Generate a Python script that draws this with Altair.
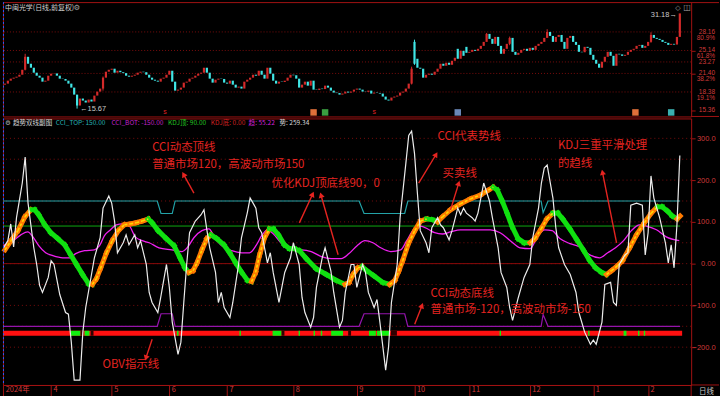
import math
import altair as alt
import pandas as pd

# ---------------- data ----------------
# closing price per trading day (index 0..234)
close = [
    19.74, 20.22, 20.55, 20.71, 20.87, 21.19, 22.00, 24.11, 22.98, 22.33,
    21.52, 21.03, 20.71, 20.06, 20.22, 21.03, 21.36, 21.40, 21.03, 20.55,
    20.50, 20.22, 19.74, 19.09, 17.95, 16.17, 17.31, 16.98, 16.66, 17.14,
    16.82, 17.79, 18.44, 18.93, 20.71, 21.68, 22.00, 22.17, 21.52, 21.84,
    21.60, 21.45, 21.03, 20.87, 21.03, 21.19, 21.52, 21.68, 21.60, 21.19,
    20.71, 20.38, 20.22, 20.06, 20.55, 20.71, 21.19, 21.84, 20.06, 18.60,
    18.76, 19.09, 19.90, 20.06, 20.55, 20.71, 21.03, 21.36, 21.52, 22.33,
    21.52, 20.55, 19.90, 20.38, 20.55, 20.50, 19.90, 19.74, 20.22, 19.57,
    19.09, 19.25, 18.93, 20.06, 20.38, 20.71, 21.19, 21.03, 21.84, 21.19,
    20.55, 22.33, 21.36, 20.22, 19.74, 20.06, 20.00, 20.22, 20.71, 21.19,
    21.10, 20.55, 19.09, 19.57, 20.06, 19.41, 20.22, 18.76, 18.70, 18.93,
    18.85, 19.41, 19.09, 18.60, 18.28, 18.20, 17.95, 18.12, 18.44, 18.28,
    18.44, 18.76, 18.93, 18.76, 18.44, 18.40, 18.60, 18.12, 18.28, 18.22,
    18.12, 17.63, 17.14, 16.98, 17.47, 17.63, 17.79, 18.28, 18.44, 18.93,
    19.74, 22.17, 22.98, 22.33, 22.17, 20.71, 21.19, 21.36, 21.19, 21.68,
    22.17, 22.98, 22.65, 23.14, 22.81, 23.46, 23.95, 23.79, 25.08, 24.27,
    24.76, 24.92, 25.24, 25.08, 25.41, 25.89, 26.54, 27.84, 27.03, 26.22,
    27.35, 25.89, 24.60, 25.41, 26.22, 27.19, 24.92, 24.43, 24.76, 25.24,
    25.41, 25.08, 25.57, 25.24, 25.89, 26.22, 26.54, 27.19, 28.16, 27.51,
    26.54, 27.35, 27.67, 26.54, 25.41, 27.19, 27.51, 26.54, 26.05, 24.92,
    24.85, 25.73, 25.57, 24.43, 23.62, 22.98, 22.33, 23.30, 24.11, 24.92,
    24.27, 22.65, 24.60, 24.50, 24.27, 24.43, 24.92, 25.24, 25.41, 25.89,
    26.05, 25.57, 25.89, 26.54, 27.67, 27.19, 27.03, 26.86, 26.54, 26.38,
    26.05, 26.22, 26.10, 27.35, 31.18,
]
first_open = 19.57
gap_day = [142, 143, 157, 160]
gap_open = [26.54, 23.79, 25.41, 25.73]
# visible shadows (high / low) of the most prominent candles
wick_day = [7, 25, 34, 141, 142, 167, 175, 188, 224]
wick_hi = [24.60, 16.30, 20.90, 22.50, 26.90, 28.00, 27.40, 28.60, 28.10]
wick_lo = [21.90, 15.67, 18.60, 19.60, 22.80, 26.90, 26.00, 27.30, 26.40]

price_ticks = [15.36, 18.38, 21.40, 23.27, 25.14, 28.16]
price_grid = [18.38, 21.40, 23.27, 25.14, 28.16]
pct_level = [28.16, 25.14, 21.40, 18.38]
pct_label = ["80.9%", "61.8%", "38.2%", "19.1%"]
low_day, low_price = 25, 15.67
high_day, high_price = 234, 31.18
event_day = [107, 111, 157, 218.6, 231]
event_color = ["#e0703a", "#3aa040", "#6a88b8", "#e0703a", "#3ab0b0"]
s_day = [55.5, 128]

# CCI ("势") white line
cci_day = [-0.5, 1, 2, 3, 4, 6, 7, 8, 10, 11, 12, 13, 15, 16, 17, 19, 21, 22, 23, 24,
           26, 27, 28, 30, 31, 33, 34, 36, 37, 38, 39, 41, 42, 43, 45, 46, 47, 49, 50, 51,
           53, 54, 56, 57, 58, 60, 61, 62, 63, 64, 66, 68, 69, 70, 71, 73, 74, 75, 76, 78,
           79, 81, 82, 84, 85, 87, 88, 89, 91, 92, 93, 95, 96, 97, 99, 100, 102, 103, 104, 106,
           107, 108, 110, 111, 113, 114, 116, 117, 118, 120, 121, 122, 124, 125, 126, 128, 129, 130, 132, 133,
           134, 136, 137, 139, 140, 141, 142, 143, 144, 146, 147, 148, 150, 151, 152, 154, 155, 157, 158, 159,
           160, 162, 163, 164, 166, 168, 169, 171, 172, 174, 175, 176, 178, 179, 180, 182, 183, 185, 186, 187,
           188, 190, 191, 192, 194, 196, 198, 199, 201, 203, 204, 205, 207, 208, 210, 211, 212, 213, 215, 216,
           217, 219, 221, 222, 223, 224, 225, 227, 229, 230, 231, 232, 233, 234]
cci_val = [38, 55, 95, 40, 110, 193, 255, 145, 38, -2, -52, -69, -33, 7, -2, -74, -117, -121, -188, -279,
           -279, -164, -105, -26, 14, 62, 133, 162, 145, 102, 26, 50, 69, 45, 69, 38, 55, -2, -69, -93,
           -117, -81, -2, -57, -140, -217, -188, -93, -2, 74, 102, 117, 129, 81, 38, -21, -93, -69, -105, -129,
           -93, -2, 62, 121, 157, 133, 86, 74, 2, 26, -21, -93, -57, -21, 14, 50, -2, -81, -117, -152,
           -129, -57, 14, 38, -17, -69, -152, -136, -69, -2, -2, -57, -2, -21, -69, -105, -86, -140, -255, -200,
           -93, -2, 110, 240, 307, 317, 264, 169, 79, 50, 26, 86, 110, 93, 86, 57, 79, 133, 117, 133,
           121, 110, 102, 121, 193, 150, 110, 38, -21, -57, -105, -136, -81, -57, -33, -2, 62, 133, 193, 229,
           236, 157, 86, 38, -2, -26, -69, -117, -164, -193, -183, -193, -140, -50, -45, -93, -100, -2, 21, 26,
           140, 145, 140, 21, 74, 210, 157, 110, 50, 2, 45, -10, 93, 259]

# triple smoothed KDJ (buy/sell line)
kdj_day = [0, 2.1, 4.5, 6.9, 9.0, 10.3, 11.7, 13.8, 15.9, 18.3, 20.7, 22.8, 24.8, 26.9, 29.0, 30.3,
           31.7, 33.1, 35.2, 37.2, 39.3, 41.4, 43.4, 45.5, 47.6, 49.7, 51.0, 53.1, 55.9, 58.6, 60.7,
           62.4, 63.8, 65.2, 66.6, 68.3, 70.0, 71.4, 73.4, 75.9, 77.9, 80.0, 82.1, 84.1, 85.5, 86.9,
           88.3, 90.0, 91.7, 93.1, 94.8, 96.9, 98.6, 100.3, 102.1, 104.5, 107.9, 111.4, 114.8, 117.9,
           119.3, 120.7, 122.4, 123.8, 125.5, 127.9, 131.0, 133.4, 135.2, 136.6, 137.9, 140.0, 142.1,
           144.1, 146.2, 148.3, 150.0, 151.7, 154.5, 157.9, 161.4, 164.8, 167.6, 169.3, 170.7, 172.4,
           174.1, 175.9, 177.9, 180.0, 182.1, 183.8, 185.9, 187.9, 190.0, 191.7, 193.4, 195.9, 198.3,
           200.7, 202.8, 204.8, 206.9, 208.6, 210.3, 212.4, 214.1, 216.6, 219.0, 221.7, 224.1, 226.2,
           227.9, 229.7, 231.4, 233.1, 234.1]
kdj_val = [33, 55, 79, 112, 129, 129, 117, 93, 74, 60, 45, 21, -2, -26, -48, -50,
           -36, -12, 26, 55, 79, 93, 95, 98, 102, 107, 98, 79, 60, 43, 14,
           -10, -21, -17, 2, 33, 60, 69, 60, 45, 26, 2, -21, -40, -43, -21,
           21, 62, 83, 83, 69, 45, 36, 36, 31, 12, -12, -26, -40, -50,
           -45, -26, -10, -7, -17, -29, -45, -50, -40, -17, 7, 50, 79,
           102, 107, 105, 100, 112, 129, 143, 155, 164, 176, 183, 176, 150,
           121, 88, 60, 50, 50, 60, 83, 107, 121, 121, 107, 83, 57,
           31, 7, -10, -21, -26, -17, -5, 7, 38, 69, 98, 121, 136,
           136, 126, 114, 107, 114]

# "趋" magenta trend line
trend_day = [-0.5, 2.8, 5.5, 7.9, 9.7, 11.7, 14.1, 16.6, 20.0, 22.4, 24.5, 27.6, 31.0, 32.8, 34.5,
             36.6, 38.6, 40.7, 43.1, 45.2, 47.6, 50.0, 53.4, 57.9, 61.4, 63.4, 65.5, 68.3, 70.7,
             72.8, 75.2, 78.6, 82.1, 84.8, 87.2, 89.0, 91.0, 93.1, 95.9, 99.3, 102.8, 106.2, 109.7,
             113.1, 116.6, 119.3, 122.1, 124.8, 127.6, 130.3, 133.8, 137.2, 139.3, 141.4, 144.1,
             146.6, 149.0, 151.7, 154.5, 157.9, 163.1, 168.3, 171.7, 175.2, 178.6, 182.1, 184.8,
             187.2, 189.7, 192.4, 195.9, 199.3, 202.8, 206.2, 209.0, 211.7, 214.5, 217.2, 220.0,
             222.4, 225.9, 229.3, 233.8]
trend_val = [43, 55, 69, 76, 64, 43, 26, 19, 14, 14, 24, 31, 33, 43, 67,
             81, 93, 95, 90, 64, 55, 50, 38, 33, 29, 40, 62, 79, 83,
             62, 43, 31, 26, 26, 45, 67, 81, 71, 48, 33, 33, 29, 17,
             12, 12, 24, 43, 55, 50, 38, 29, 33, 55, 79, 90,
             83, 74, 71, 76, 81, 81, 81, 74, 55, 38, 36, 67,
             81, 79, 60, 48, 40, 21, 14, 26, 38, 55, 79, 93,
             90, 81, 64, 55]

# dynamic CCI bands (CCI_TOP / CCI_BOT)
band_day = [-0.69, 52.8, 54.1, 58.0, 59.0, 122.8, 124.5, 138.6, 139.7, 185.9, 186.6, 188.3, 234.1]
band_top = [150, 150, 120, 120, 150, 150, 120, 120, 150, 150, 122, 150, 150]
band_bot = [-150, -150, -120, -120, -150, -150, -120, -120, -150, -150, -122, -150, -150]
kdj_top_level = 90
kdj_bottom_level = 0

# OBV indicator strip
obv_start = [-0.69, 22.8, 27.6, 92.8, 113.1, 126.2, 129.0, 214.5, 59.6, 81.3, 101.8, 107.0, 109.5,
             171.5, 202.2, 219.5, 221.5, 26.2, 29.7, 95.9, 119.0, 133.8]
obv_end = [234.8, 26.2, 29.3, 95.9, 117.2, 128.6, 133.4, 215.5, 60.2, 81.8, 102.3, 107.5, 110.0,
           172.0, 202.7, 220.0, 222.0, 27.2, 30.7, 96.9, 120.0, 135.9]
obv_state = ["red"] + ["green"] * 16 + ["dark"] * 5

month_day = [16, 37, 57, 77, 100, 122, 142, 161, 182, 204, 223]
month_label = ["4", "5", "6", "7", "8", "9", "10", "11", "12", "1", "2"]
cci_ticks = [-200, -150, -100, -50, 0, 50, 100, 150, 200, 250, 300]

# ---------------- styling ----------------
W = 692
HT, HB = 115, 268
BORDER = "#a01212"
GRID = "#7a0c0c"
LABEL = "#d03a3a"
ANN = "#e52420"
UP, DOWN = "#d42a2a", "#40e6e6"
CJK = "Noto Sans CJK SC"
LAT = "Liberation Sans"
OBV_COL = {"red": "#ff1010", "green": "#10f010", "dark": "#300000"}
KDJ_COL = {"up": "#ff7a00", "down": "#10e010"}

XS = alt.Scale(domain=[-0.69, 237.93], nice=False, zero=False)
YT = alt.Scale(domain=[14.39, 33.02], nice=False, zero=False)
YB = alt.Scale(domain=[-290.5, 347.6], nice=False, zero=False)
ONE = pd.DataFrame({"k": [0]})

ax_top = alt.Axis(orient="right", values=price_ticks, labels=False,
                  grid=False, domain=False, tickSize=4, tickColor=BORDER, title=None)
ax_bot = alt.Axis(orient="right", values=cci_ticks,
                  labelExpr="abs(datum.value) >= 100 ? format(datum.value, '.1f') : format(datum.value, '.2f')",
                  grid=False, domain=False, tickSize=4, tickColor=BORDER, labelColor=LABEL,
                  labelFontSize=7.5, labelFont=LAT, labelAlign="right", labelPadding=20,
                  labelOverlap=False, labelFlush=False, title=None)
expr = "'2024年'"
for d, l in reversed(list(zip(month_day, month_label))):
    expr = f"datum.value == {d} ? '{l}' : ({expr})"
ax_x = alt.Axis(orient="bottom", values=[-0.6] + month_day, labelExpr=expr, grid=False,
                domainColor=BORDER, tickColor=BORDER, tickSize=13, labelAlign="left",
                labelBaseline="top", labelPadding=-12, labelOffset=2, labelColor=LABEL,
                labelFontSize=7.5, labelFont=CJK, labelFlush=False, labelOverlap=False, title=None)


def txt(s, x, y, color, size=7.5, font=CJK, align="left"):
    return alt.Chart(ONE).mark_text(text=s, align=align, baseline="middle", fontSize=size,
                                    font=font, color=color).encode(x=alt.value(x), y=alt.value(y))


def vline(x1, y1, x2, y2, color, w=1.0, dash=None):
    kw = dict(color=color, strokeWidth=w)
    if dash:
        kw["strokeDash"] = dash
    return alt.Chart(ONE).mark_rule(**kw).encode(x=alt.value(x1), x2=alt.value(x2),
                                                 y=alt.value(y1), y2=alt.value(y2))


def arrow(x1, y1, x2, y2):
    ang = math.degrees(math.atan2(x2 - x1, -(y2 - y1))) % 360
    line = vline(x1, y1, x2, y2, ANN, 1.4)
    head = alt.Chart(ONE).mark_point(shape="triangle", filled=True, size=38, angle=ang,
                                     color=ANN, opacity=1).encode(x=alt.value(x2), y=alt.value(y2))
    return [line, head]


# ---------------- top panel (price) ----------------
opens = [first_open] + close[:-1]
for d, o in zip(gap_day, gap_open):
    opens[d] = o
candles = pd.DataFrame({
    "day": list(range(len(close))),
    "open": opens,
    "close": close,
})
candles["col"] = [UP if c > o else DOWN for o, c in zip(candles["open"], candles["close"])]
wicks = pd.DataFrame({"day": wick_day, "hi": wick_hi, "lo": wick_lo})
wicks["col"] = [candles["col"][d] for d in wick_day]

grid_t = alt.Chart(pd.DataFrame({"level": price_grid})).mark_rule(
    color=GRID, strokeDash=[1, 2], strokeWidth=1).encode(y=alt.Y("level:Q", scale=YT, axis=ax_top))
wick = alt.Chart(wicks).mark_rule(strokeWidth=1).encode(
    x=alt.X("day:Q", scale=XS, axis=None),
    y=alt.Y("hi:Q", scale=YT, axis=ax_top), y2="lo:Q",
    color=alt.Color("col:N", scale=None))
cand = alt.Chart(candles).mark_rule(strokeWidth=2.2).encode(
    x=alt.X("day:Q", scale=XS, axis=None),
    y=alt.Y("open:Q", scale=YT, axis=ax_top),
    y2="close:Q",
    color=alt.Color("col:N", scale=None),
)
price_lab = alt.Chart(pd.DataFrame({"level": price_ticks})).mark_text(
    align="right", baseline="middle", fontSize=6.5, font=LAT, color=LABEL).encode(
    y=alt.Y("level:Q", scale=YT, axis=ax_top), x=alt.value(716),
    text=alt.Text("level:Q", format=".2f"))
pct = alt.Chart(pd.DataFrame({"level": pct_level, "pct": pct_label})).mark_text(
    align="right", baseline="middle", dy=6, fontSize=6.5, font=LAT, color=LABEL).encode(
    y=alt.Y("level:Q", scale=YT, axis=ax_top), x=alt.value(716), text="pct:N")
events = alt.Chart(pd.DataFrame({"day": event_day, "c": event_color})).mark_square(
    size=42, opacity=1).encode(x=alt.X("day:Q", scale=XS, axis=None), y=alt.datum(15.05),
                               color=alt.Color("c:N", scale=None))
s_marks = alt.Chart(pd.DataFrame({"day": s_day})).mark_text(
    text="s", fontSize=7, color="#e02020", font=LAT).encode(
    x=alt.X("day:Q", scale=XS, axis=None), y=alt.datum(15.1))
low_t = alt.Chart(pd.DataFrame({"day": [low_day], "p": [low_price]})).mark_text(
    text="←15.67", align="left", baseline="middle", dx=3, fontSize=7.5, font=LAT,
    color="#c8c8c8").encode(x=alt.X("day:Q", scale=XS, axis=None), y=alt.Y("p:Q", scale=YT, axis=ax_top))
high_t = alt.Chart(pd.DataFrame({"day": [high_day], "p": [high_price]})).mark_text(
    text="31.18→", align="right", baseline="middle", dx=-3, dy=2, fontSize=7.5, font=LAT,
    color="#c8c8c8").encode(x=alt.X("day:Q", scale=XS, axis=None), y=alt.Y("p:Q", scale=YT, axis=ax_top))

top_layers = [grid_t, wick, cand, price_lab, pct, events, s_marks, low_t, high_t,
              txt("中闽光学(日线,前复权)", 2, 6, "#d0d0d0", 7),
              txt("⚙", 71, 6, "#a0a0a0", 7.5, "DejaVu Sans"),
              txt("◇", 676, 6, "#a0a0a0", 7, "DejaVu Sans"),
              txt("◫", 684, 6, "#a0a0a0", 8, "DejaVu Sans"),
              vline(0.5, 0, 0.5, HT, "#2a5cff", 1, [2, 2]),
              vline(W, 0.5, 720, 0.5, BORDER),
              vline(W, HT, 720, HT, BORDER)]
top = alt.layer(*top_layers).properties(width=W, height=HT)

# ---------------- bottom panel (indicators) ----------------
grid_b = alt.Chart(pd.DataFrame({"level": cci_ticks})).mark_rule(
    color=GRID, strokeDash=[1, 3], strokeWidth=1).encode(y=alt.Y("level:Q", scale=YB, axis=ax_bot))


def hline(level, color, w=1.0):
    return alt.Chart(pd.DataFrame({"a": [-0.69], "b": [234.1], "v": [level]})).mark_rule(
        color=color, strokeWidth=w).encode(
        x=alt.X("a:Q", scale=XS, axis=ax_x), x2="b:Q", y=alt.Y("v:Q", scale=YB, axis=ax_bot))


bands = pd.DataFrame({"day": band_day, "top": band_top, "bot": band_bot})
band_t = alt.Chart(bands).mark_line(color="#23a3a8", strokeWidth=1.2).encode(
    x=alt.X("day:Q", scale=XS, axis=ax_x), y=alt.Y("top:Q", scale=YB, axis=ax_bot))
band_b = alt.Chart(bands).mark_line(color="#9414ac", strokeWidth=1.2).encode(
    x=alt.X("day:Q", scale=XS, axis=ax_x), y=alt.Y("bot:Q", scale=YB, axis=ax_bot))

obv_df = pd.DataFrame({"s": obv_start, "e": obv_end, "st": obv_state})
obv_df["col"] = [OBV_COL[s] for s in obv_df["st"]]
obv = alt.Chart(obv_df).mark_rect().encode(
    x=alt.X("s:Q", scale=XS, axis=ax_x), x2="e:Q",
    y=alt.datum(-160.7), y2=alt.datum(-172.6),
    color=alt.Color("col:N", scale=None),
)

trend = alt.Chart(pd.DataFrame({"day": trend_day, "v": trend_val})).mark_line(
    color="#f020f0", strokeWidth=1.3, interpolate="monotone").encode(
    x=alt.X("day:Q", scale=XS, axis=ax_x), y=alt.Y("v:Q", scale=YB, axis=ax_bot))

seg = pd.DataFrame({"x0": kdj_day[:-1], "x1": kdj_day[1:], "v0": kdj_val[:-1], "v1": kdj_val[1:]})
seg["dir"] = ["up" if b > a else "down" for a, b in zip(seg["v0"], seg["v1"])]
seg["col"] = [KDJ_COL[d] for d in seg["dir"]]
kdj_base = alt.Chart(seg).mark_rule(strokeWidth=5, strokeCap="square").encode(
    x=alt.X("x0:Q", scale=XS, axis=ax_x), x2="x1:Q",
    y=alt.Y("v0:Q", scale=YB, axis=ax_bot), y2="v1:Q",
    color=alt.Color("col:N", scale=None))
kdj_hi = alt.Chart(seg).transform_filter("datum.dir == 'up'").mark_rule(
    strokeWidth=1.6, color="#ffd800", strokeDash=[3, 2]).encode(
    x=alt.X("x0:Q", scale=XS, axis=ax_x), x2="x1:Q",
    y=alt.Y("v0:Q", scale=YB, axis=ax_bot), y2="v1:Q")

cci = alt.Chart(pd.DataFrame({"day": cci_day, "v": cci_val})).mark_line(
    color="#ececec", strokeWidth=1.2).encode(
    x=alt.X("day:Q", scale=XS, axis=ax_x), y=alt.Y("v:Q", scale=YB, axis=ax_bot))

bottom_layers = [grid_b, hline(kdj_top_level, "#10a810"), hline(kdj_bottom_level, "#8a0a0a"),
                 band_t, band_b, obv, trend, kdj_base, kdj_hi, cci]

hdr = [("⚙", 2, "#b0b0b0"), ("趋势双线副图", 10, "#d8d8d8"), ("CCI_TOP: 150.00", 53, "#26b0b4"),
       ("CCI_BOT: -150.00", 109, "#c020c8"), ("KDJ顶: 90.00", 166, "#20c020"),
       ("KDJ底: 0.00", 209, "#d02020"), ("趋: 55.22", 247, "#d020d8"), ("势: 259.34", 278, "#d8d8d8")]
for s, x, c in hdr:
    bottom_layers.append(txt(s, x, 5, c, 6.6, "DejaVu Sans" if s == "⚙" else CJK))

notes = [("CCI动态顶线", 150, 30), ("普通市场120，高波动市场150", 150, 47),
         ("优化KDJ顶底线90，0", 270, 66), ("CCI代表势线", 437, 19), ("买卖线", 442, 56),
         ("KDJ三重平滑处理", 558, 28), ("的趋线", 558, 46), ("CCI动态底线", 430, 177),
         ("普通市场-120，高波动市场-150", 430, 193), ("OBV指示线", 100, 248)]
for s, x, y in notes:
    bottom_layers.append(txt(s, x, y, ANN, 11.5))

arrows = [(192, 75, 182, 57), (298, 105, 311, 77), (337, 137, 320, 78), (418, 65, 435, 37),
          (450, 92, 458, 66), (617, 125, 603, 55), (414, 207, 421, 189), (150, 222, 144, 240)]
for a in arrows:
    bottom_layers.extend(arrow(*a))

bottom_layers += [vline(0.5, 0, 0.5, HB, "#2a5cff", 1, [2, 2]),
                  vline(W, HB, 720, HB, BORDER),
                  vline(W, HB, W, HB + 13, BORDER),
                  txt("日线", 700, HB + 7, "#c8c8c8", 7.5)]

bottom = alt.layer(*bottom_layers).properties(width=W, height=HB)

chart = alt.vconcat(top, bottom, spacing=0).properties(
    background="#000000", padding=0
).configure_view(stroke=BORDER, strokeWidth=1).configure_concat(spacing=0)

chart.save("out.html", embed_options={"renderer": "svg", "actions": False})
